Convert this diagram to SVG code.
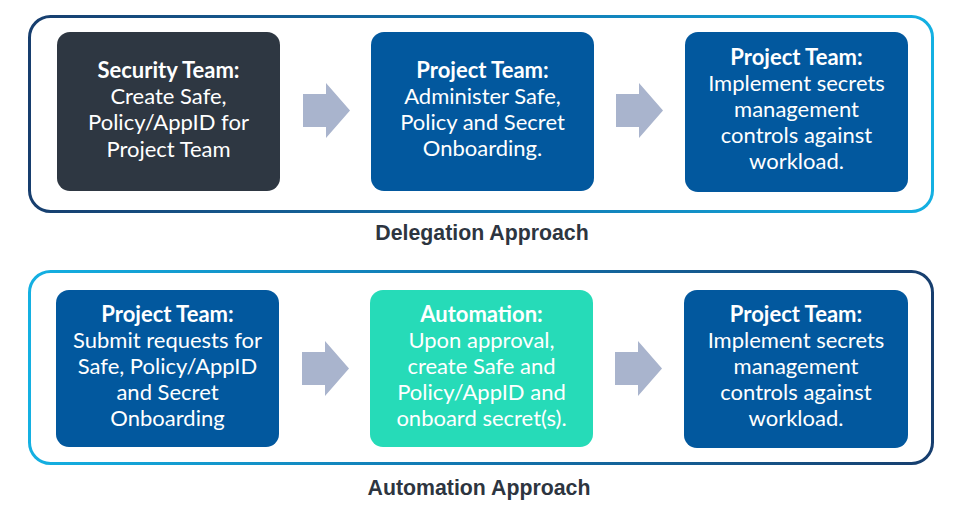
<svg xmlns="http://www.w3.org/2000/svg" width="964" height="509" viewBox="0 0 964 509">
<style>
.box{stroke:none}
.dark{fill:#2e3742}
.blue{fill:#02589e}
.teal{fill:#26dbb8}
.arrow{fill:#a9b4cd}
.t{font-family:Lato,"Open Sans",sans-serif;font-size:22px;fill:#ffffff;text-anchor:middle}
.b{font-weight:bold}
.lbl{font-family:"Liberation Sans",Arial,sans-serif;font-size:21.3px;font-weight:bold;fill:#2d3540;text-anchor:middle}
</style>
<defs>
<linearGradient id="g1" gradientUnits="userSpaceOnUse" x1="29" y1="0" x2="933" y2="0">
<stop offset="0" stop-color="#173e6e"/>
<stop offset="0.5" stop-color="#1274ae"/>
<stop offset="1" stop-color="#14b0e2"/>
</linearGradient>
<linearGradient id="g2" gradientUnits="userSpaceOnUse" x1="29" y1="0" x2="933" y2="0">
<stop offset="0" stop-color="#14b0e2"/>
<stop offset="0.5" stop-color="#1274ae"/>
<stop offset="1" stop-color="#173e6e"/>
</linearGradient>
</defs>
<rect width="964" height="509" fill="#ffffff"/>
<g id="delegation-container">
<rect x="29.5" y="16.5" width="903" height="195" rx="21" fill="none" stroke="url(#g1)" stroke-width="3"/>
<text class="lbl" x="482" y="240">Delegation Approach</text>
</g>
<g id="automation-container">
<rect x="29.5" y="271.5" width="903" height="192" rx="21" fill="none" stroke="url(#g2)" stroke-width="3"/>
<text class="lbl" x="479" y="495">Automation Approach</text>
</g>
<g id="d1">
<rect class="box dark" x="57" y="32" width="223" height="159" rx="13"/>
<text class="t"><tspan class="b" x="168.5" y="78">Security Team:</tspan><tspan x="168.5" y="104">Create Safe,</tspan><tspan x="168.5" y="130">Policy/AppID for</tspan><tspan x="168.5" y="157">Project Team</tspan></text>
</g>
<g id="d2">
<rect class="box blue" x="371" y="32" width="223" height="159" rx="13"/>
<text class="t"><tspan class="b" x="482.5" y="78">Project Team:</tspan><tspan x="482.5" y="104">Administer Safe,</tspan><tspan x="482.5" y="130">Policy and Secret</tspan><tspan x="482.5" y="156">Onboarding.</tspan></text>
</g>
<g id="d3">
<rect class="box blue" x="685" y="32" width="223" height="160" rx="13"/>
<text class="t"><tspan class="b" x="796.5" y="65">Project Team:</tspan><tspan x="796.5" y="91">Implement secrets</tspan><tspan x="796.5" y="117">management</tspan><tspan x="796.5" y="143">controls against</tspan><tspan x="796.5" y="169">workload.</tspan></text>
</g>
<g id="a1">
<rect class="box blue" x="56" y="290" width="223" height="157" rx="13"/>
<text class="t"><tspan class="b" x="167.5" y="322">Project Team:</tspan><tspan x="167.5" y="348">Submit requests for</tspan><tspan x="167.5" y="374">Safe, Policy/AppID</tspan><tspan x="167.5" y="400">and Secret</tspan><tspan x="167.5" y="426">Onboarding</tspan></text>
</g>
<g id="a2">
<rect class="box teal" x="370" y="290" width="223" height="157" rx="13"/>
<text class="t"><tspan class="b" x="481.5" y="322">Automation:</tspan><tspan x="481.5" y="348">Upon approval,</tspan><tspan x="481.5" y="374">create Safe and</tspan><tspan x="481.5" y="400">Policy/AppID and</tspan><tspan x="481.5" y="426">onboard secret(s).</tspan></text>
</g>
<g id="a3">
<rect class="box blue" x="684" y="290" width="224" height="158" rx="13"/>
<text class="t"><tspan class="b" x="796" y="322">Project Team:</tspan><tspan x="796" y="348">Implement secrets</tspan><tspan x="796" y="374">management</tspan><tspan x="796" y="400">controls against</tspan><tspan x="796" y="426">workload.</tspan></text>
</g>
<g id="connectors">
<polygon class="arrow" points="303,94 326,94 326,83 350,110.5 326,138 326,127 303,127"/>
<polygon class="arrow" points="616,94 639,94 639,83 663,110.5 639,138 639,127 616,127"/>
<polygon class="arrow" points="302,352 325,352 325,341 349,368.5 325,396 325,385 302,385"/>
<polygon class="arrow" points="615,352 638,352 638,341 662,368.5 638,396 638,385 615,385"/>
</g>
</svg>
